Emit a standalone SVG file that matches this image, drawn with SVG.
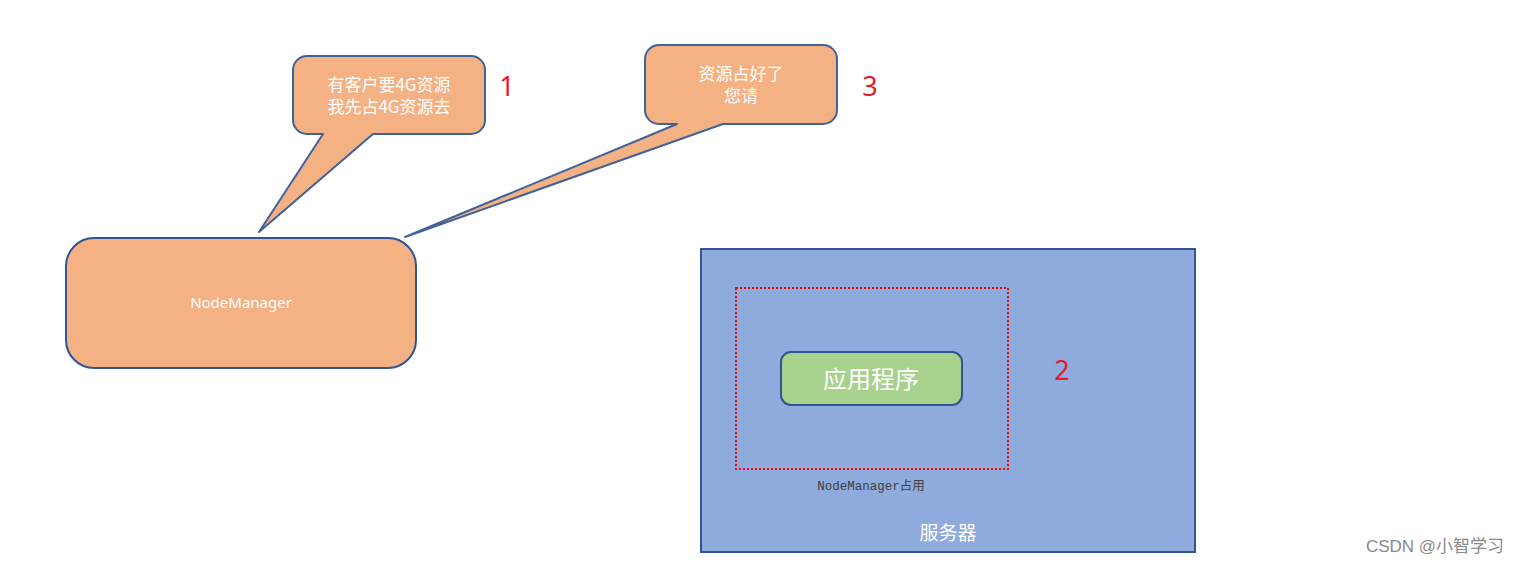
<svg xmlns="http://www.w3.org/2000/svg" width="1517" height="564" viewBox="0 0 1517 564">
<style>
.callout{fill:#F4B183;stroke:#41619A;stroke-width:2;stroke-linejoin:round}
.ctext{fill:#ffffff;font-family:"Noto Sans CJK SC","Noto Sans",sans-serif;font-size:17px;text-anchor:middle}
.num{fill:#E8192C;font-family:"Noto Sans","Liberation Sans",sans-serif;font-size:27px;text-anchor:middle}
</style>
<rect width="1517" height="564" fill="#ffffff"/>
<g id="callout1">
<path class="callout" d="M307,56 H471 A14,14 0 0 1 485,70 V120 A14,14 0 0 1 471,134 H373 L259,232 L323,134 H307 A14,14 0 0 1 293,120 V70 A14,14 0 0 1 307,56 Z"/>
<text class="ctext" x="389" y="91">有客户要4G资源</text>
<text class="ctext" x="389" y="113">我先占4G资源去</text>
</g>
<g id="callout3">
<path class="callout" d="M659,45 H823 A14,14 0 0 1 837,59 V110 A14,14 0 0 1 823,124 H723 L405,237 L677,124 H659 A14,14 0 0 1 645,110 V59 A14,14 0 0 1 659,45 Z"/>
<text class="ctext" x="741" y="80">资源占好了</text>
<text class="ctext" x="741" y="102">您请</text>
</g>
<g id="nodemanager">
<rect x="66" y="238" width="350" height="130" rx="28" fill="#F4B183" stroke="#2F5597" stroke-width="2"/>
<text x="241" y="308" fill="#ffffff" font-family="'Noto Sans','Segoe UI',sans-serif" font-size="15" text-anchor="middle">NodeManager</text>
</g>
<g id="server">
<rect x="701" y="249" width="494" height="303" fill="#8FAADC" stroke="#2F5597" stroke-width="2"/>
<text x="948" y="540" fill="#ffffff" font-family="'Noto Sans CJK SC',sans-serif" font-size="19" text-anchor="middle">服务器</text>
</g>
<g id="reserved">
<rect x="736" y="288" width="272" height="181" fill="none" stroke="#FF0000" stroke-width="2" stroke-dasharray="2,2"/>
<text x="871" y="490" fill="#404040" font-family="'Liberation Mono','Noto Sans CJK SC',monospace" font-size="12.5" text-anchor="middle">NodeManager占用</text>
</g>
<g id="app">
<rect x="781" y="352" width="181" height="53" rx="10" fill="#A9D18E" stroke="#2F5597" stroke-width="2"/>
<text x="871" y="388" fill="#ffffff" font-family="'Noto Sans CJK SC',sans-serif" font-size="24" text-anchor="middle">应用程序</text>
</g>
<g id="labels">
<text class="num" x="507" y="96">1</text>
<text class="num" x="1062" y="380">2</text>
<text class="num" x="870" y="96">3</text>
</g>
<g id="connectors"></g>
<text x="1435" y="552" fill="#8a8a8a" font-family="'Liberation Sans','Noto Sans CJK SC',sans-serif" font-size="17" text-anchor="middle">CSDN @小智学习</text>
</svg>
